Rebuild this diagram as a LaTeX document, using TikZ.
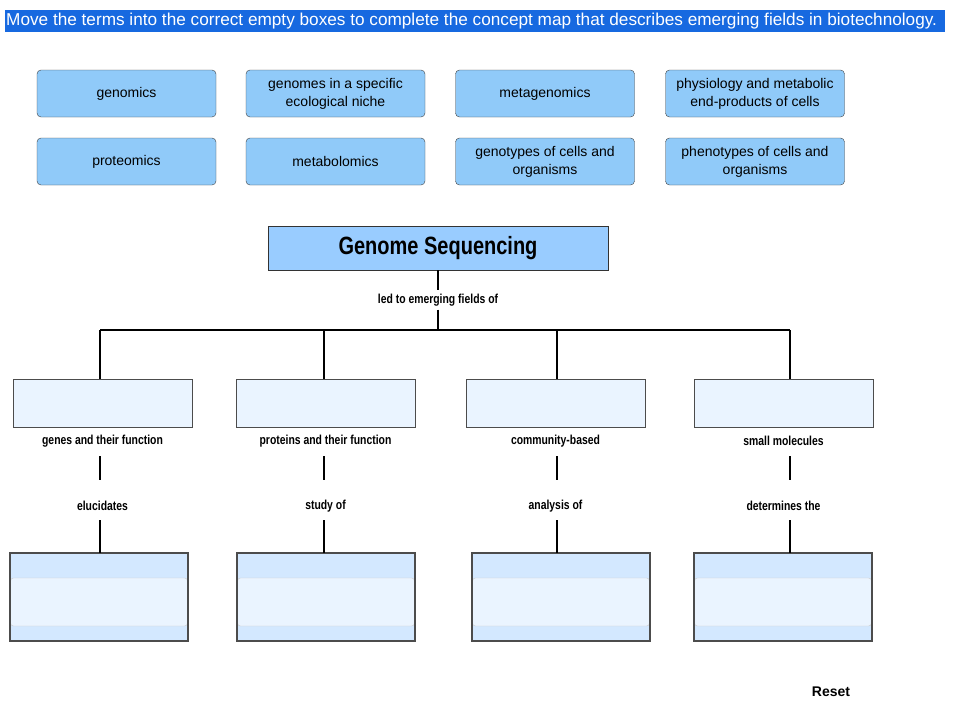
\documentclass[tikz,border=0pt]{standalone}
\usepackage{fontspec}
\setmainfont{Liberation Sans}
\newfontfamily\cond{Liberation Sans}[FakeStretch=0.8]
\begin{document}
\begin{tikzpicture}[x=1pt,y=-1pt,
 term/.style={draw=black!75,fill=termblue,rounded corners=4pt,align=center,font=\fontsize{14}{18}\selectfont,minimum width=179pt,minimum height=47pt,inner sep=1pt},
 slot/.style={draw=black!70,fill=slotfill,minimum width=179pt,minimum height=48pt,inner sep=0pt},
 lab/.style={font=\cond\bfseries\fontsize{13}{14}\selectfont},
 ln/.style={line width=1.8pt,black}]
\definecolor{termblue}{HTML}{90CAF9}
\definecolor{slotfill}{HTML}{EAF4FF}
\definecolor{slotband}{HTML}{D3E8FF}
\definecolor{gsblue}{HTML}{99CCFF}
\definecolor{hl}{HTML}{1769E0}
\useasboundingbox (0,0) rectangle (975,728);
\fill[hl] (5,10) rectangle (945,32);
\node[anchor=west,text=white,font=\fontsize{17.2}{19}\selectfont,inner sep=0pt] (title) at (6,21) {Move the terms into the correct empty boxes to complete the concept map that describes emerging fields in biotechnology.};
\node[term] (t1) at (126.5,93.5) {genomics};
\node[term] (t2) at (335.5,93.5) {genomes in a specific\\ecological niche};
\node[term] (t3) at (545,93.5) {metagenomics};
\node[term] (t4) at (755,93.5) {physiology and metabolic\\end-products of cells};
\node[term] (t5) at (126.5,161.5) {proteomics};
\node[term] (t6) at (335.5,161.5) {metabolomics};
\node[term] (t7) at (545,161.5) {genotypes of cells and\\organisms};
\node[term] (t8) at (755,161.5) {phenotypes of cells and\\organisms};
\node[draw=black!80,fill=gsblue,minimum width=340pt,minimum height=44pt,font=\cond\bfseries\fontsize{25}{27}\selectfont] (gs) at (438,248) {Genome Sequencing};
\node[lab] (led) at (438,300) {led to emerging fields of};
\coordinate (hb) at (438,330);
\draw[ln] (gs.south) -- (led.north);
\draw[ln] (led.south) -- (hb);
\draw[ln] (100,330) -- (790,330);
\foreach \i/\x/\bx/\vx/\a/\b in {1/102.5/99/100/genes and their function/elucidates, 2/325.5/326/324/proteins and their function/study of, 3/555.5/561/557/community-based/analysis of, 4/783.5/783/790/small molecules/determines the}{
  \node[slot] (u\i) at (\x,403) {};
  \node[lab] (l\i) at (\x,441) {\a};
  \node[lab] (m\i) at (\x,506) {\b};
  \fill[slotband] (\bx-89,553) rectangle (\bx+89,641);
  \node[fill=slotfill,draw=black!20,rounded corners=3pt,minimum width=177pt,minimum height=48pt,inner sep=0pt] (b\i) at (\bx,602) {};
  \draw[black!70,line width=1.2pt] (\bx-89,553) rectangle (\bx+89,641);
  \coordinate (bt\i) at (\vx,553);
  \coordinate (c\i) at (\vx,456);
  \coordinate (d\i) at (\vx,480);
  \coordinate (e\i) at (\vx,520);
  \draw[ln] (c\i) -- (d\i);
  \draw[ln] (e\i) -- (bt\i);
  \draw[ln] (\vx,330) -- (\vx,379);
}
\node[font=\bfseries\fontsize{14}{16}\selectfont] (reset) at (831,692) {Reset};
\end{tikzpicture}
\end{document}
